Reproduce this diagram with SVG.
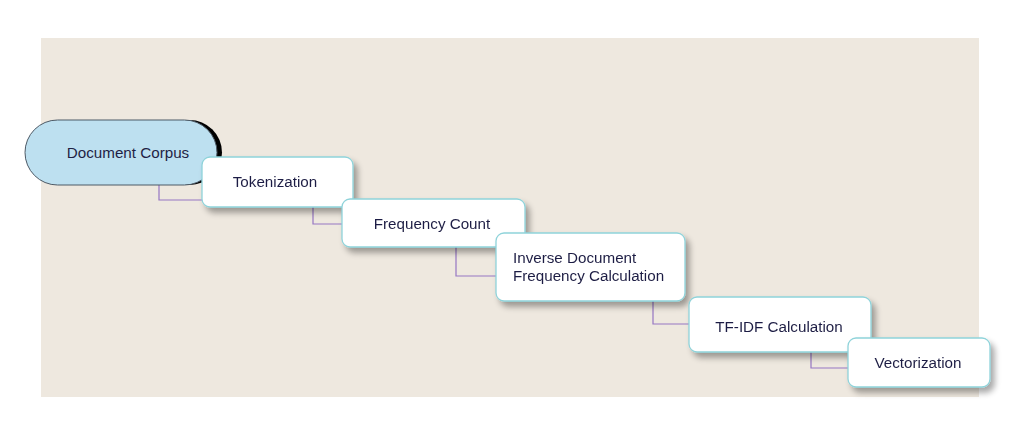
<svg xmlns="http://www.w3.org/2000/svg" width="1024" height="430" viewBox="0 0 1024 430">
<defs>
<filter id="sh" x="-20%" y="-30%" width="150%" height="180%">
<feGaussianBlur in="SourceAlpha" stdDeviation="3"/>
<feOffset dx="4" dy="5" result="b"/>
<feComponentTransfer><feFuncA type="linear" slope="0.35"/></feComponentTransfer>
<feMerge><feMergeNode/><feMergeNode in="SourceGraphic"/></feMerge>
</filter>
<style>
.box{fill:#ffffff;stroke:#8fd3da;stroke-width:1.3}
.t{font-family:"Liberation Sans",Arial,sans-serif;font-size:15.2px;fill:#1f1f45}
.c{fill:none;stroke:#9676c4;stroke-width:1.2}
</style>
</defs>
<rect width="1024" height="430" fill="#ffffff"/>
<rect x="41" y="38" width="938" height="359" fill="#eee8df"/>
<g id="connectors">
<path class="c" d="M159,185 V200 H202"/>
<path class="c" d="M313,207 V224 H342"/>
<path class="c" d="M456,247 V276 H496"/>
<path class="c" d="M653,301 V324 H689"/>
<path class="c" d="M811,352 V368 H848"/>
</g>
<g id="document-corpus">
<rect x="30" y="120" width="192" height="65" rx="32.5" fill="#000000"/>
<rect x="25" y="120" width="192" height="65" rx="32.5" fill="#bde0f0" stroke="#4d5a66" stroke-width="1"/>
<text class="t" x="128" y="158" text-anchor="middle">Document Corpus</text>
</g>
<g id="tokenization" filter="url(#sh)">
<rect class="box" x="202" y="157" width="151" height="50" rx="8"/>
<text class="t" x="275" y="187" text-anchor="middle">Tokenization</text>
</g>
<g id="frequency-count" filter="url(#sh)">
<rect class="box" x="342" y="199" width="183" height="48" rx="8"/>
<text class="t" x="432" y="229" text-anchor="middle">Frequency Count</text>
</g>
<g id="idf" filter="url(#sh)">
<rect class="box" x="496" y="233" width="189" height="68" rx="8"/>
<text class="t" x="513" y="263">Inverse Document</text>
<text class="t" x="513" y="281">Frequency Calculation</text>
</g>
<g id="tf-idf" filter="url(#sh)">
<rect class="box" x="689" y="297" width="182" height="55" rx="8"/>
<text class="t" x="779" y="332" text-anchor="middle">TF-IDF Calculation</text>
</g>
<g id="vectorization" filter="url(#sh)">
<rect class="box" x="848" y="338" width="142" height="49" rx="8"/>
<text class="t" x="918" y="368" text-anchor="middle">Vectorization</text>
</g>
</svg>
